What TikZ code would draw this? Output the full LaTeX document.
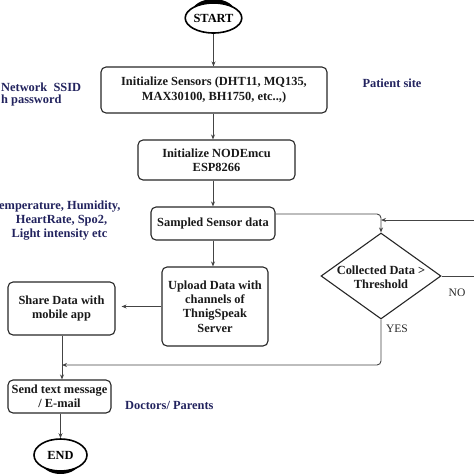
\documentclass[tikz,border=0pt]{standalone}
\usepackage{fontspec}
\setmainfont{Liberation Serif}
\usetikzlibrary{shapes.geometric,arrows.meta}
\definecolor{navy}{HTML}{22235E}
\definecolor{edgecol}{HTML}{262626}
\definecolor{conncol}{HTML}{444444}
\begin{document}
\begin{tikzpicture}[x=1pt,y=-1pt,
  font=\bfseries\fontsize{12.4}{14.3}\selectfont,
  box/.style={draw=edgecol, line width=1.1pt, rounded corners=5pt, align=center, inner sep=0pt, text=black!90},
  term/.style={ellipse, draw=black, line width=1.6pt, fill=white, inner sep=0pt},
  shadowell/.style={ellipse, fill=black, inner sep=0pt},
  conn/.style={draw=conncol, line width=0.9pt, -{Stealth[length=5pt,width=4pt]}},
  plainline/.style={draw=conncol, line width=0.9pt},
  note/.style={text=navy, align=center, inner sep=0pt},
  yn/.style={font=\fontsize{11.5}{13}\selectfont, text=black!85, inner sep=0pt},
]
\useasboundingbox (0,0) rectangle (474,474);
\clip (0,0) rectangle (474,474);
% terminals
\node[shadowell, minimum width=44pt, minimum height=28pt] (startsh) at (213.5,13) {};
\node[term, minimum width=55pt, minimum height=30pt] (start) at (213.5,18) {START};
\node[shadowell, minimum width=40pt, minimum height=28pt] (endsh) at (60.5,460) {};
\node[term, minimum width=53pt, minimum height=32pt] (end) at (60.5,455) {END};
% process boxes
\node[box, minimum width=226pt, minimum height=46pt] (sensors) at (214,90) {Initialize Sensors (DHT11, MQ135,\\MAX30100, BH1750, etc..,)};
\node[box, minimum width=157pt, minimum height=40pt] (mcu) at (216.5,160) {Initialize NODEmcu\\ESP8266};
\node[box, minimum width=124pt, minimum height=33pt] (sampled) at (213,223.5) {Sampled Sensor data};
\node[box, minimum width=106pt, minimum height=79pt] (upload) at (215,306.5) {Upload Data with\\channels of\\ThnigSpeak\\Server};
\node[box, minimum width=107pt, minimum height=53pt] (share) at (61.5,308.5) {Share Data with\\mobile app};
\node[box, minimum width=103pt, minimum height=33pt] (send) at (59.5,396.5) {Send text message\\/ E-mail};
% decision
\node[diamond, draw=edgecol, line width=1.1pt, minimum width=120pt, minimum height=86pt, inner sep=0pt] (dia) at (381,276) {};
\node[align=center, inner sep=0pt, text=black!90] (diatext) at (381,277) {Collected Data >\\Threshold};
% free ends at the picture edge
\coordinate (rin) at (474,220);
\coordinate (rout) at (474,276);
\coordinate (yj) at (62,365);
% connectors
\draw[conn] (start.south) -- (start.south |- sensors.north);
\draw[conn] (sensors.south -| sampled) -- (sampled |- mcu.north);
\draw[conn] (mcu.south -| sampled) -- (sampled.north);
\draw[conn] (sampled.south) -- (sampled.south |- upload.north);
\draw[conn, rounded corners=4pt] ([yshift=9.5pt]sampled.east) -| (dia.north);
\draw[conn] (rin) -- (rin -| dia.north);
\draw[plainline] (dia.east) -- (rout);
\draw[conn, rounded corners=4pt] (dia.south) |- (yj);
\draw[conn, shorten >=6pt] (upload.west) -- (upload.west -| share.east);
\draw[conn] (share.south -| yj) -- (yj |- send.north);
\draw[conn] (send.south -| end) -- (end.north);
% branch labels
\node[yn] (yes) at (397,329) {YES};
\node[yn] (no) at (457,293) {NO};
% side notes
\node[note, anchor=west] (n1) at (1,87) {Network\ \ SSID};
\node[note, anchor=west] (n2) at (1,101) {h password};
\node[note] (n3) at (392,83) {Patient site};
\node[note, anchor=west] (n4) at (-1,207) {emperature, Humidity,};
\node[note] (n5) at (61.5,221) {HeartRate, Spo2,};
\node[note] (n6) at (59.5,235) {Light intensity etc};
\node[note, anchor=west] (n7) at (125,405) {Doctors/ Parents};
\end{tikzpicture}
\end{document}
